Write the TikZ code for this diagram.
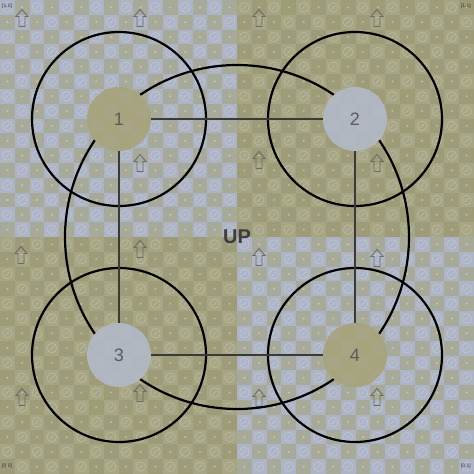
\documentclass[tikz,border=0pt]{standalone}
\usepackage{fontspec}
\setsansfont{Liberation Sans}
\definecolor{blueA}{HTML}{ADB4C5}
\definecolor{blueB}{HTML}{A7AA98}
\definecolor{oliveA}{HTML}{A6A584}
\definecolor{oliveB}{HTML}{9D9B78}
\definecolor{diskolive}{HTML}{A7A279}
\definecolor{diskblue}{HTML}{B4BBCC}
\definecolor{numgrey}{HTML}{5B5B5B}
\definecolor{upgrey}{HTML}{3D3D3D}
\definecolor{linkgrey}{HTML}{3A3A3A}
\definecolor{arrowgrey}{HTML}{6A6A6A}
\definecolor{taggrey}{HTML}{333333}
\tikzset{
  ring/.style={draw=black, line width=2.2pt},
  link/.style={draw=linkgrey, line width=1.4pt},
  disk/.style={circle, minimum size=64pt, inner sep=0pt, fill opacity=0.85, text opacity=1,
    font=\sffamily\fontsize{18}{18}\selectfont, text=numgrey},
  tag/.style={inner sep=0pt, font=\sffamily\fontsize{5}{5}\selectfont, text=taggrey},
  glyphring/.style={draw=white, draw opacity=0.22, line width=0.7pt},
  glyphdot/.style={fill=white, fill opacity=0.3},
  arrowline/.style={draw=arrowgrey, line width=0.9pt, line join=miter},
  uparrow/.pic={
    \path[arrowline] (0,-8.5) -- (6,-1.5) -- (3,-1.5) -- (3,8.5) -- (-3,8.5)
      -- (-3,-1.5) -- (-6,-1.5) -- cycle;
  }
}
\def\cell{14.8125}
\begin{document}
\begin{tikzpicture}[x=1pt,y=-1pt]
  \useasboundingbox (0,0) rectangle (474,474);
  % quadrants
  \fill[blueA] (0,0) rectangle (237,237);
  \fill[blueA] (237,237) rectangle (474,474);
  \fill[oliveA] (237,0) rectangle (474,237);
  \fill[oliveA] (0,237) rectangle (237,474);
  % checker
  \foreach \i in {0,...,31}{
    \foreach \j in {0,...,31}{
      \pgfmathtruncatemacro{\p}{mod(\i+\j,2)}
      \pgfmathtruncatemacro{\q}{mod(floor(\i/16)+floor(\j/16),2)}
      \ifnum\p=1
        \ifnum\q=0
          \fill[blueB] (\i*\cell,\j*\cell) rectangle ++(\cell,\cell);
        \else
          \fill[oliveB] (\i*\cell,\j*\cell) rectangle ++(\cell,\cell);
        \fi
        \path[glyphdot] (\i*\cell+0.5*\cell,\j*\cell+0.5*\cell) circle (1.2pt);
      \else
        \path[glyphring] (\i*\cell+0.5*\cell,\j*\cell+0.5*\cell) circle (4.8pt);
        \path[glyphring] (\i*\cell+0.5*\cell-2,\j*\cell+0.5*\cell+2)
          -- ++(4,-4);
      \fi
    }
  }
  % arrows
  \foreach \x/\y in {22/18,140/18,259/18,377/18,140/163,259/160,377/163,
      21/255,140/249,259/257,377/258,22/397,140/393,259/398,377/397}
    \pic at (\x,\y) {uparrow};
  % corner tags
  \node[tag, anchor=north west] (tl) at (2,4) {[1,0]};
  \node[tag, anchor=north east] (tr) at (471,4) {[1,1]};
  \node[tag, anchor=south west] (bl) at (2,469) {[0,0]};
  \node[tag, anchor=south east] (br) at (471,469) {[0,1]};
  % rings
  \node[font=\sffamily\bfseries\fontsize{20}{20}\selectfont, text=upgrey] (up) at (237,237) {UP};
  \coordinate (c1) at (119,119);
  \coordinate (c2) at (355,119);
  \coordinate (c3) at (119,355);
  \coordinate (c4) at (355,355);
  \foreach \c in {c1,c2,c3,c4}
    \draw[ring] (\c) circle (87pt);
  \foreach \a in {45,135,225,315}
    \draw[ring] (up.center) ++(\a+10.7:172pt)
      arc[start angle=\a+10.7, end angle=\a+79.3, radius=172pt];
  % disks
  \node[disk, fill=diskolive] (n1) at (c1) {1};
  \node[disk, fill=diskblue] (n2) at (c2) {2};
  \node[disk, fill=diskblue] (n3) at (c3) {3};
  \node[disk, fill=diskolive] (n4) at (c4) {4};
  \draw[link] (n1) -- (n2);
  \draw[link] (n3) -- (n4);
  \draw[link] (n1) -- (n3);
  \draw[link] (n2) -- (n4);
\end{tikzpicture}
\end{document}
